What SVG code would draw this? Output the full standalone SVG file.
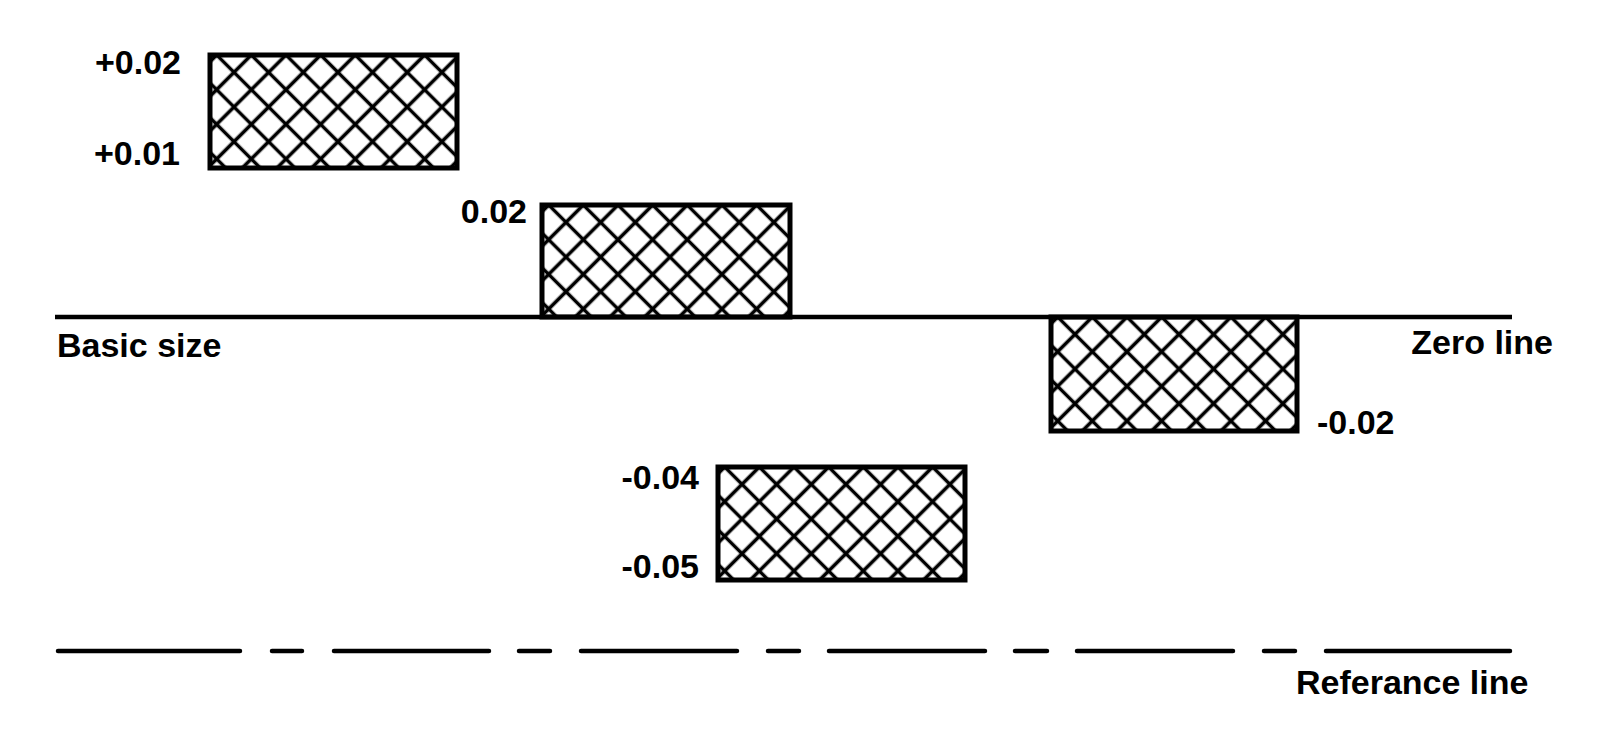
<svg xmlns="http://www.w3.org/2000/svg" xmlns:xlink="http://www.w3.org/1999/xlink" width="1599" height="745" viewBox="0 0 1599 745">
<style>
.lbl{font-family:"Liberation Sans",Arial,sans-serif;font-weight:bold;font-size:34px;fill:#000}
.end{text-anchor:end}
.box{stroke:#000;stroke-width:5}
.ln{stroke:#000;stroke-width:4.5;fill:none}
.hatch{stroke:#000;stroke-width:3.6;fill:none}
</style>
<defs>
<pattern id="h1" patternUnits="userSpaceOnUse" width="24.5" height="24.5" patternTransform="translate(234,55) rotate(45)"><path class="hatch" d="M0,12.25 H24.5 M12.25,0 V24.5"/></pattern>
<pattern id="h2" patternUnits="userSpaceOnUse" width="24.5" height="24.5" patternTransform="translate(566,205) rotate(45)"><path class="hatch" d="M0,12.25 H24.5 M12.25,0 V24.5"/></pattern>
<pattern id="h3" patternUnits="userSpaceOnUse" width="24.5" height="24.5" patternTransform="translate(1075,317) rotate(45)"><path class="hatch" d="M0,12.25 H24.5 M12.25,0 V24.5"/></pattern>
<pattern id="h4" patternUnits="userSpaceOnUse" width="24.5" height="24.5" patternTransform="translate(742,467) rotate(45)"><path class="hatch" d="M0,12.25 H24.5 M12.25,0 V24.5"/></pattern>
</defs>
<rect width="1599" height="745" fill="#fff"/>
<g id="connectors">
<line class="ln" x1="55" y1="317" x2="1512" y2="317"/>
<path class="ln" stroke-linecap="round" d="M58,651 H240 M272,651 H302 M334,651 H489 M519,651 H550 M581,651 H737 M768,651 H799 M829,651 H985 M1015,651 H1047 M1077,651 H1233 M1264,651 H1295 M1326,651 H1510"/>
</g>
<g id="box1">
<rect class="box" x="210" y="55" width="247" height="113" fill="url(#h1)"/>
<text class="lbl end" x="181" y="74">+0.02</text>
<text class="lbl end" x="180" y="165">+0.01</text>
</g>
<g id="box2">
<rect class="box" x="542" y="205" width="248" height="112" fill="url(#h2)"/>
<text class="lbl end" x="527" y="223">0.02</text>
</g>
<g id="box3">
<rect class="box" x="1051" y="317" width="246" height="114" fill="url(#h3)"/>
<text class="lbl" x="1317" y="434">-0.02</text>
</g>
<g id="box4">
<rect class="box" x="718" y="467" width="247" height="113" fill="url(#h4)"/>
<text class="lbl end" x="699" y="489">-0.04</text>
<text class="lbl end" x="699" y="578">-0.05</text>
</g>
<g id="labels">
<text class="lbl" x="57" y="357">Basic size</text>
<text class="lbl end" x="1553" y="354">Zero line</text>
<text class="lbl" x="1296" y="694">Referance line</text>
</g>
</svg>
